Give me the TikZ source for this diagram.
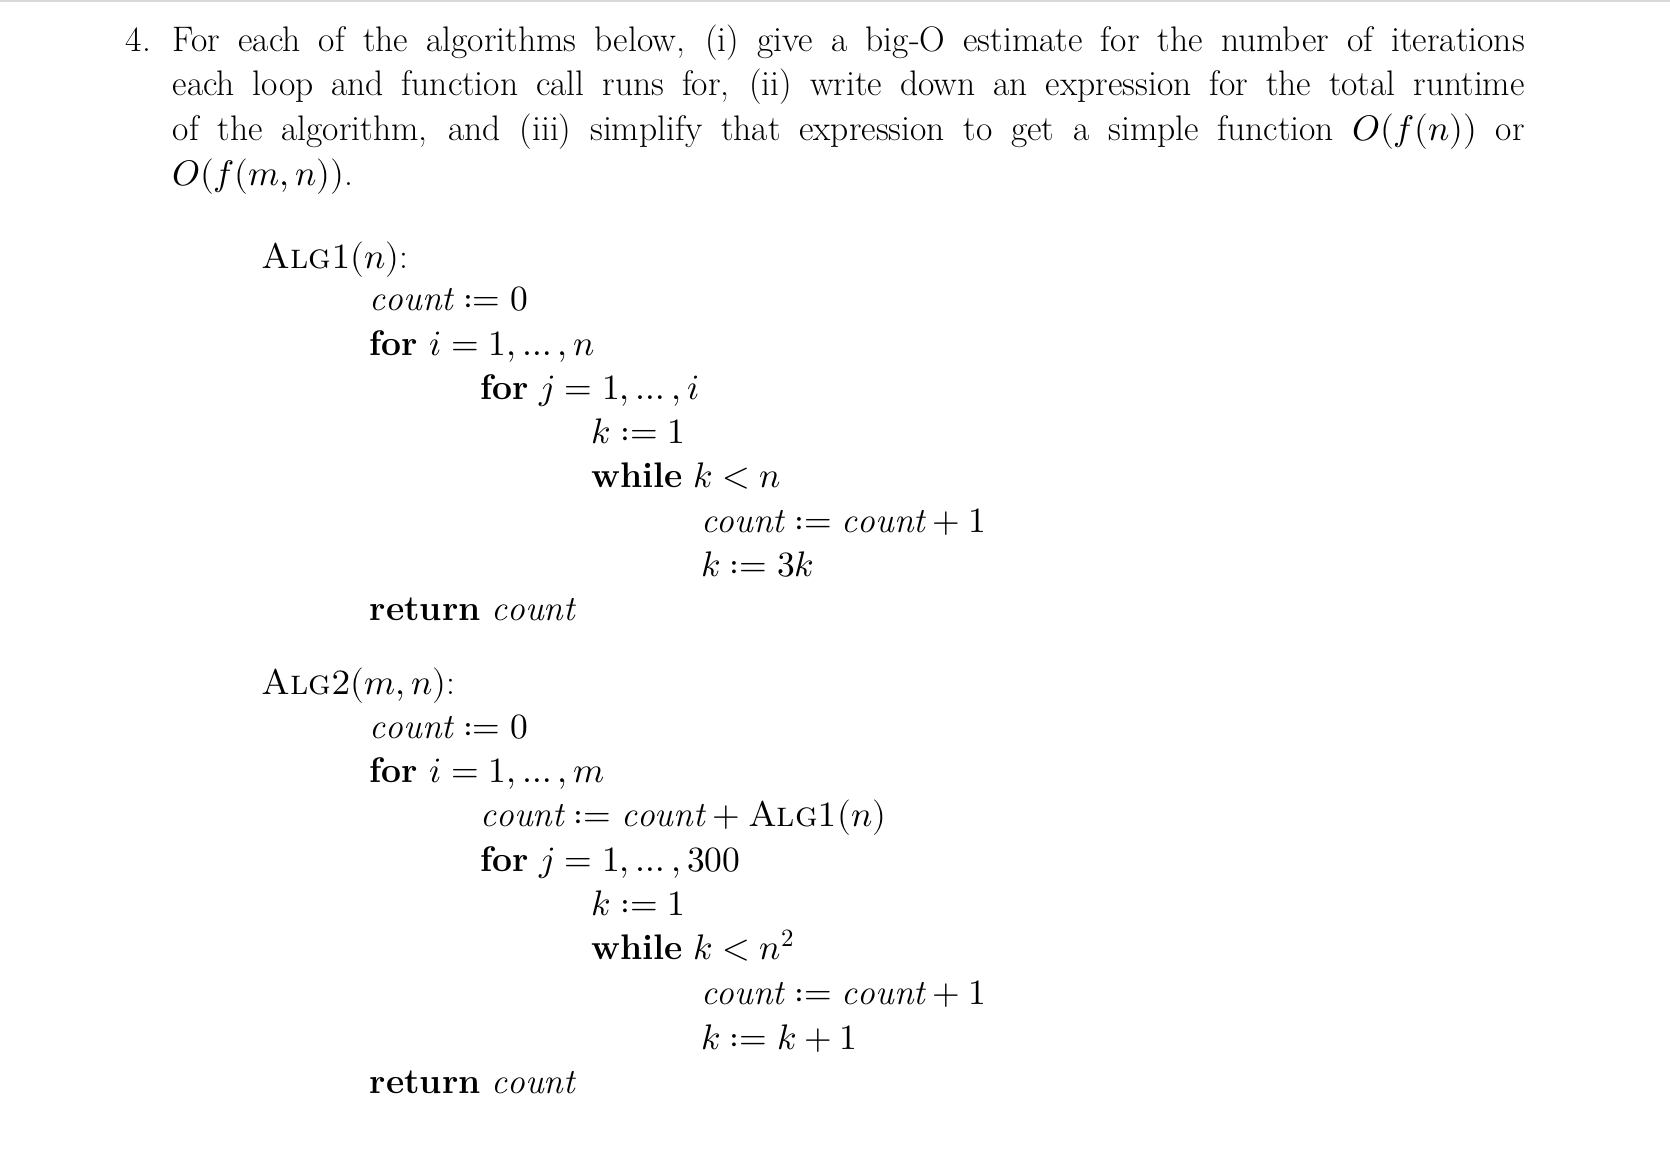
\documentclass[tikz,border=0pt]{standalone}
\usepackage{unicode-math}
\begin{document}
\begin{tikzpicture}[x=1.065pt,y=-1.065pt,
  txt/.style={anchor=base west,inner sep=0pt,font=\fontsize{35.5}{42}\selectfont},
  jline/.style={txt,text width=1352pt,align=justify}]
\useasboundingbox (0,0) rectangle (1568,1104);
\draw[gray!30,line width=1.5pt] (0,1) -- (1568,1);
\newcommand{\jl}[1]{{\parfillskip=0pt #1\par}}
\node[txt] (num) at (118,48) {4.};
\node[jline] (p1) at (162,48) {\jl{For each of the algorithms below, (i) give a big-O estimate for the number of iterations}};
\node[jline] (p2) at (162,90) {\jl{each loop and function call runs for, (ii) write down an expression for the total runtime}};
\node[jline] (p3) at (162,132) {\jl{of the algorithm, and (iii) simplify that expression to get a simple function $O(f(n))$ or}};
\node[txt] (p4) at (162,174) {$O(f(m,n))$.};
% ALG1
\node[txt] (a1) at (245,252) {\textsc{Alg1}$(n)$:};
\node[txt] (a1l1) at (347,292) {$\mathit{count} := 0$};
\node[txt] (a1l2) at (347,334) {\textbf{for} $i = 1,\ldots,n$};
\node[txt] (a1l3) at (451,375) {\textbf{for} $j = 1,\ldots,i$};
\node[txt] (a1l4) at (555,416) {$k := 1$};
\node[txt] (a1l5) at (555,458) {\textbf{while} $k < n$};
\node[txt] (a1l6) at (658,500) {$\mathit{count} := \mathit{count}+1$};
\node[txt] (a1l7) at (658,541) {$k := 3k$};
\node[txt] (a1l8) at (347,583) {\textbf{return} $\mathit{count}$};
% ALG2
\node[txt] (a2) at (245,652) {\textsc{Alg2}$(m,n)$:};
\node[txt] (a2l1) at (347,693) {$\mathit{count} := 0$};
\node[txt] (a2l2) at (347,735) {\textbf{for} $i = 1,\ldots,m$};
\node[txt] (a2l3) at (451,776) {$\mathit{count} := \mathit{count}+\textsc{Alg1}(n)$};
\node[txt] (a2l4) at (451,818) {\textbf{for} $j = 1,\ldots,300$};
\node[txt] (a2l5) at (555,860) {$k := 1$};
\node[txt] (a2l6) at (555,901) {\textbf{while} $k < n^2$};
\node[txt] (a2l7) at (658,943) {$\mathit{count} := \mathit{count}+1$};
\node[txt] (a2l8) at (658,985) {$k := k+1$};
\node[txt] (a2l9) at (347,1027) {\textbf{return} $\mathit{count}$};
\end{tikzpicture}
\end{document}
